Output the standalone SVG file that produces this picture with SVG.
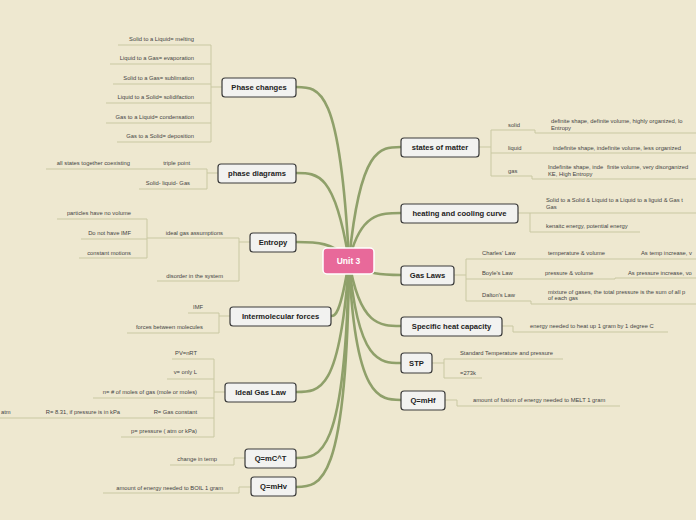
<svg xmlns="http://www.w3.org/2000/svg" width="696" height="520" viewBox="0 0 696 520">
<style>
.n rect{fill:#f2f2f0;stroke:#3a3a3a;stroke-width:1.2}
.n text{font-family:"Liberation Sans",Arial,sans-serif;font-weight:bold;font-size:7.6px;fill:#222;text-anchor:middle}
.t{font-family:"Liberation Sans",Arial,sans-serif;font-size:5.8px;fill:#444}
.e{text-anchor:end}
.b{fill:none;stroke:#c9c8a2;stroke-width:1}
.m{fill:none;stroke:#8fa06a;stroke-width:2.6;stroke-linecap:round}
</style>
<rect width="696" height="520" fill="#eee8d0"/>
<g id="connectors">
<g class="m">
<path d="M349,261 C340,87 320,87 296,87"/>
<path d="M349,261 C335,173 318,173 296,173"/>
<path d="M349,261 C335,242 315,242 296,242"/>
<path d="M349,261 C340,316 335,316 331,316"/>
<path d="M349,261 C340,392 320,392 296,392"/>
<path d="M349,261 C345,458 320,458 296,458"/>
<path d="M349,261 C347,487 320,487 296,487"/>
<path d="M349,261 C360,147 380,147 401,147"/>
<path d="M349,261 C360,213 380,213 401,213"/>
<path d="M349,261 C365,275 385,275 401,275"/>
<path d="M349,261 C360,326 380,326 401,326"/>
<path d="M349,261 C358,363 380,363 401,363"/>
<path d="M349,261 C355,400 380,400 401,400"/>
</g>
<g class="b">
<path d="M222,87H211M211,45V142M118,45H211M110,64H211M113,84H211M106,103H211M106,123H211M117,142H211"/>
<path d="M218,173H207M207,169V189M46,169H207M139,189H207"/>
<path d="M250,242H239M239,238V281M157,238H239M157,281H239M157,238H147M147,219V258M57,219H147M81,239H147M79,258H147"/>
<path d="M230,316H219M219,313V333M188,313H219M127,333H219"/>
<path d="M225,392H214M214,359V437M172,359H214M167,379H214M93,398H214M0,418H214M121,437H214"/>
<path d="M245,458H234V465H170"/>
<path d="M251,487H239V493H103"/>
<path d="M479,147H491M491,130V176M491,130H535V133H696M491,153H696M491,176H532V179H696"/>
<path d="M518,213H530M530,213V232M530,213H696M530,232H640"/>
<path d="M454,275H466M466,259V301M466,259H696M466,279H615V278H696M466,301H531V304H696"/>
<path d="M502,326H513V332H668"/>
<path d="M432,363H444M444,359V378M444,359H563M444,378H482"/>
<path d="M445,400H457V406H620"/>
</g>
</g>
<g id="center" class="n"><rect x="323" y="248" width="51" height="26" rx="4" style="fill:#e8699a;stroke:#fff;stroke-width:1.5"/><text x="348.5" y="264" style="fill:#fff;font-size:8.5px">Unit 3</text></g>
<g id="phase-changes" class="n"><rect x="222" y="78" width="74" height="19" rx="3"/><text x="259" y="90">Phase changes</text></g>
<g id="phase-diagrams" class="n"><rect x="218" y="164" width="78" height="19" rx="3"/><text x="257" y="176">phase diagrams</text></g>
<g id="entropy" class="n"><rect x="250" y="233" width="46" height="19" rx="3"/><text x="273" y="245">Entropy</text></g>
<g id="imf" class="n"><rect x="230" y="307" width="101" height="19" rx="3"/><text x="280.5" y="319">Intermolecular forces</text></g>
<g id="ideal-gas" class="n"><rect x="225" y="383" width="71" height="19" rx="3"/><text x="260.5" y="395">Ideal Gas Law</text></g>
<g id="qmct" class="n"><rect x="245" y="449" width="51" height="19" rx="3"/><text x="270.5" y="461">Q=mC^T</text></g>
<g id="qmhv" class="n"><rect x="251" y="477" width="45" height="19" rx="3"/><text x="273.5" y="489">Q=mHv</text></g>
<g id="states" class="n"><rect x="401" y="138" width="78" height="19" rx="3"/><text x="440" y="150">states of matter</text></g>
<g id="heating" class="n"><rect x="401" y="204" width="117" height="19" rx="3"/><text x="459.5" y="216">heating and cooling curve</text></g>
<g id="gas-laws" class="n"><rect x="401" y="266" width="53" height="19" rx="3"/><text x="427.5" y="278">Gas Laws</text></g>
<g id="specific-heat" class="n"><rect x="401" y="317" width="101" height="19" rx="3"/><text x="451.5" y="329">Specific heat capacity</text></g>
<g id="stp" class="n"><rect x="401" y="353" width="31" height="20" rx="3"/><text x="416.5" y="366">STP</text></g>
<g id="qmhf" class="n"><rect x="401" y="391" width="44" height="19" rx="3"/><text x="423" y="403">Q=mHf</text></g>
<g id="labels">
<g class="t e">
<text x="194" y="41">Solid to a Liquid= melting</text>
<text x="194" y="60">Liquid to a Gas= evaporation</text>
<text x="194" y="80">Solid to a Gas= sublimation</text>
<text x="194" y="99">Liquid to a Solid= solidifaction</text>
<text x="194" y="119">Gas to a Liquid= condensation</text>
<text x="194" y="138">Gas to a Solid= deposition</text>
<text x="190" y="165">triple point</text>
<text x="130" y="165">all states together coexisting</text>
<text x="190" y="185">Solid- liquid- Gas</text>
<text x="223" y="235">ideal gas assumptions</text>
<text x="223" y="278">disorder in the system</text>
<text x="131" y="215">particles have no volume</text>
<text x="131" y="235">Do not have IMF</text>
<text x="131" y="255">constant motions</text>
<text x="203" y="309">IMF</text>
<text x="203" y="329">forces between molecules</text>
<text x="197" y="355">PV=nRT</text>
<text x="197" y="374">v= only L</text>
<text x="197" y="394">n= # of moles of gas (mole or moles)</text>
<text x="197" y="414">R= Gas constant</text>
<text x="120" y="414">R= 8.31, if pressure is in kPa</text>
<text x="197" y="433">p= pressure ( atm or kPa)</text>
<text x="217" y="461">change in temp</text>
<text x="223" y="490">amount of energy needed to BOIL 1 gram</text>
</g>
<text class="t" x="1" y="414">atm</text>
<g class="t">
<text x="508" y="127">solid</text>
<text x="551" y="123">definite shape, definite volume, highly organized, lo</text>
<text x="551" y="130">Entropy</text>
<text x="508" y="150">liquid</text>
<text x="553" y="150">indefinite shape, indefinite volume, less organized</text>
<text x="508" y="173">gas</text>
<text x="548" y="169">Indefinite shape, inde</text>
<text x="607" y="169">finite volume, very disorganized</text>
<text x="548" y="176">KE, High Entropy</text>
<text x="546" y="202">Solid to a Solid &amp;  Liquid to a Liquid to a liguid &amp; Gas t</text>
<text x="546" y="209">Gas</text>
<text x="546" y="228">kenaitc energy, potential energy</text>
<text x="482" y="255">Charles' Law</text>
<text x="548" y="255">temperature &amp; volume</text>
<text x="641" y="255">As temp increase, v</text>
<text x="482" y="275">Boyle's Law</text>
<text x="545" y="275">pressure &amp; volume</text>
<text x="628" y="275">As pressure increase, vo</text>
<text x="482" y="297">Dalton's Law</text>
<text x="548" y="294">mixture of gases, the total pressure is the sum of all p</text>
<text x="548" y="300">of each gas</text>
<text x="530" y="328">energy needed to heat up 1 gram by 1 degree C</text>
<text x="460" y="355">Standard Temperature and pressure</text>
<text x="460" y="375">=273k</text>
<text x="473" y="402">amount of fusion of energy needed to MELT 1 gram</text>
</g>
</g>
</svg>
